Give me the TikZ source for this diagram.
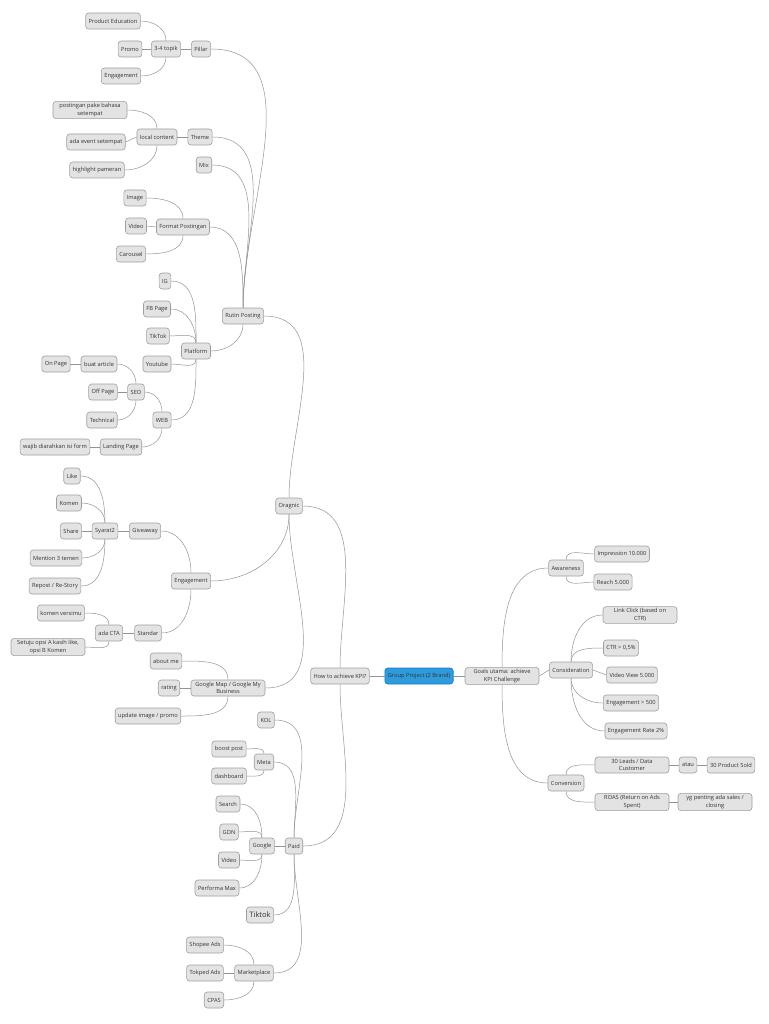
\documentclass[tikz,border=0pt]{standalone}
\usepackage{fontspec}
\setmainfont{Open Sans}
\begin{document}
\begin{tikzpicture}[x=1pt,y=-1pt,
 n/.style={draw=gray!75,fill=gray!22,rounded corners=3pt,line width=0.6pt,inner xsep=3pt,inner ysep=2pt,minimum height=16pt,font=\fontsize{5.7}{7.5}\selectfont,text=black!80,align=center},
 root/.style={n,fill=cyan!75!blue!85,draw=cyan!60!blue,text=black!80},
 e/.style={draw=gray!85,line width=0.5pt}]
\useasboundingbox (0,0) rectangle (768,1024);
\newcommand\eup[2]{\draw[e] (#1.east) to[out=0,in=90] (#2.north);}
\newcommand\edn[2]{\draw[e] (#1.east) to[out=0,in=-90] (#2.south);}
\newcommand\est[2]{\draw[e] (#1.east) -- (#2.west);}
\newcommand\rup[2]{\draw[e] (#1.west) to[out=180,in=90] (#2.north);}
\newcommand\rdn[2]{\draw[e] (#1.west) to[out=180,in=-90] (#2.south);}
\newcommand\rst[2]{\draw[e] (#1.west) -- (#2.east);}
% center
\node[root] (gp) at (419,676) {Group Project (2 Brand)};
\node[n] (how) at (340,676) {How to achieve KPI?};
\node[n,minimum width=74pt] (goal) at (502,676) {Goals utama: achieve\\KPI Challenge};
% right
\node[n] (aw) at (566,568) {Awareness};
\node[n] (con) at (571,670) {Consideration};
\node[n] (cv) at (566,783) {Conversion};
\node[n] (imp) at (622,554) {Impression 10.000};
\node[n] (rch) at (613,582) {Reach 5.000};
\node[n,minimum width=74pt] (lc) at (640,615) {Link Click (based on\\CTR)};
\node[n] (ctr) at (621,648) {CTR > 0,5\%};
\node[n] (vv) at (632,675) {Video View 5.000};
\node[n] (eng5) at (631,703) {Engagement > 500};
\node[n] (er) at (636,731) {Engagement Rate 2\%};
\node[n,minimum width=74pt] (lead) at (632,765) {30 Leads / Data\\Customer};
\node[n,minimum width=74pt] (roas) at (632,802) {ROAS (Return on Ads\\Spent)};
\node[n] (atau) at (688,765) {atau};
\node[n] (ps) at (731,765) {30 Product Sold};
\node[n,minimum width=74pt] (yg) at (715,802) {yg penting ada sales /\\closing};
% left main
\node[n] (org) at (289,506) {Oragnic};
\node[n] (paid) at (294,846) {Paid};
\node[n] (rp) at (243,316) {Rutin Posting};
\node[n] (eng) at (191,581) {Engagement};
\node[n,minimum width=74pt] (gm) at (228,688) {Google Map / Google My\\Business};
% rutin posting
\node[n] (pil) at (201,49) {Pillar};
\node[n] (th) at (200,137) {Theme};
\node[n] (mix) at (204,165) {Mix};
\node[n] (fp) at (183,227) {Format Postingan};
\node[n] (plat) at (196,351) {Platform};
\node[n] (topik) at (166,49) {3-4 topik};
\node[n] (pe) at (113,21) {Product Education};
\node[n] (pro) at (130,49) {Promo};
\node[n] (eg1) at (121,76) {Engagement};
\node[n] (lcn) at (157,137) {local content};
\node[n,minimum width=74pt] (pb) at (90,110) {postingan pake bahasa\\setempat};
\node[n] (ev) at (96,142) {ada event setempat};
\node[n] (hp) at (97,170) {highlight pameran};
\node[n] (img) at (135,198) {Image};
\node[n] (vid) at (136,226) {Video};
\node[n] (car) at (131,254) {Carousel};
\node[n] (ig) at (165,281) {IG};
\node[n] (fb) at (157,309) {FB Page};
\node[n] (tt) at (158,336) {TikTok};
\node[n] (yt) at (157,364) {Youtube};
\node[n] (web) at (162,420) {WEB};
\node[n] (seo) at (136,392) {SEO};
\node[n] (lp) at (121,447) {Landing Page};
\node[n] (wj) at (55,447) {wajib diarahkan isi form};
\node[n] (ba) at (99,364) {buat article};
\node[n] (onp) at (56,364) {On Page};
\node[n] (offp) at (103,392) {Off Page};
\node[n] (tech) at (102,420) {Technical};
% engagement
\node[n] (gv) at (145,531) {Giveaway};
\node[n] (st) at (148,633) {Standar};
\node[n] (sy) at (105,531) {Syarat2};
\node[n] (like) at (72,476) {Like};
\node[n] (kom) at (69,503) {Komen};
\node[n] (sh) at (71,531) {Share};
\node[n] (men) at (56,558) {Mention 3 temen};
\node[n] (rep) at (55,586) {Repost / Re-Story};
\node[n] (cta) at (109,633) {ada CTA};
\node[n] (kv) at (61,613) {komen versimu};
\node[n,minimum width=74pt] (setuju) at (48,647) {Setuju opsi A kasih like,\\opsi B Komen};
% google map
\node[n] (ab) at (166,661) {about me};
\node[n] (rat) at (169,688) {rating};
\node[n] (upd) at (148,716) {update image / promo};
% paid
\node[n] (kol) at (266,720) {KOL};
\node[n] (meta) at (264,762) {Meta};
\node[n] (goo) at (262,846) {Google};
\node[n,font=\fontsize{7.5}{9}\selectfont] (tik) at (260,915) {Tiktok};
\node[n] (mp) at (254,973) {Marketplace};
\node[n] (bp) at (229,749) {boost post};
\node[n] (dash) at (229,776) {dashboard};
\node[n] (srch) at (228,804) {Search};
\node[n] (gdn) at (229,832) {GDN};
\node[n] (gvid) at (229,860) {Video};
\node[n] (pmax) at (217,888) {Performa Max};
\node[n] (sho) at (205,945) {Shopee Ads};
\node[n] (tok) at (205,973) {Tokped Ads};
\node[n] (cpas) at (214,1000) {CPAS};
% edges center
\est{how}{gp} \draw[e] (gp.east) -- (goal.west);
\eup{org}{how} \edn{paid}{how}
\rup{aw}{goal} \rst{con}{goal} \rdn{cv}{goal}
\rup{imp}{aw} \rdn{rch}{aw}
\rup{lc}{con} \rup{ctr}{con} \draw[e] (vv.west) -- (con.east); \rdn{eng5}{con} \rdn{er}{con}
\rup{lead}{cv} \rdn{roas}{cv}
\draw[e] (lead.east)--(atau.west); \draw[e] (atau.east)--(ps.west); \draw[e] (roas.east)--(yg.west);
% organic
\eup{rp}{org} \edn{eng}{org} \edn{gm}{org}
\eup{pil}{rp} \eup{th}{rp} \eup{mix}{rp} \eup{fp}{rp} \edn{plat}{rp}
\est{topik}{pil} \eup{pe}{topik} \est{pro}{topik} \edn{eg1}{topik}
\est{lcn}{th} \eup{pb}{lcn} \est{ev}{lcn} \edn{hp}{lcn}
\eup{img}{fp} \est{vid}{fp} \edn{car}{fp}
\eup{ig}{plat} \eup{fb}{plat} \eup{tt}{plat} \edn{yt}{plat} \edn{web}{plat}
\eup{seo}{web} \edn{lp}{web} \est{wj}{lp}
\eup{ba}{seo} \est{offp}{seo} \edn{tech}{seo} \est{onp}{ba}
\eup{gv}{eng} \edn{st}{eng} \est{sy}{gv}
\eup{like}{sy} \eup{kom}{sy} \est{sh}{sy} \edn{men}{sy} \edn{rep}{sy}
\est{cta}{st} \eup{kv}{cta} \edn{setuju}{cta}
\eup{ab}{gm} \est{rat}{gm} \edn{upd}{gm}
% paid
\eup{kol}{paid} \eup{meta}{paid} \est{goo}{paid} \edn{tik}{paid} \edn{mp}{paid}
\eup{bp}{meta} \edn{dash}{meta}
\eup{srch}{goo} \eup{gdn}{goo} \edn{gvid}{goo} \edn{pmax}{goo}
\eup{sho}{mp} \est{tok}{mp} \edn{cpas}{mp}
\end{tikzpicture}
\end{document}
